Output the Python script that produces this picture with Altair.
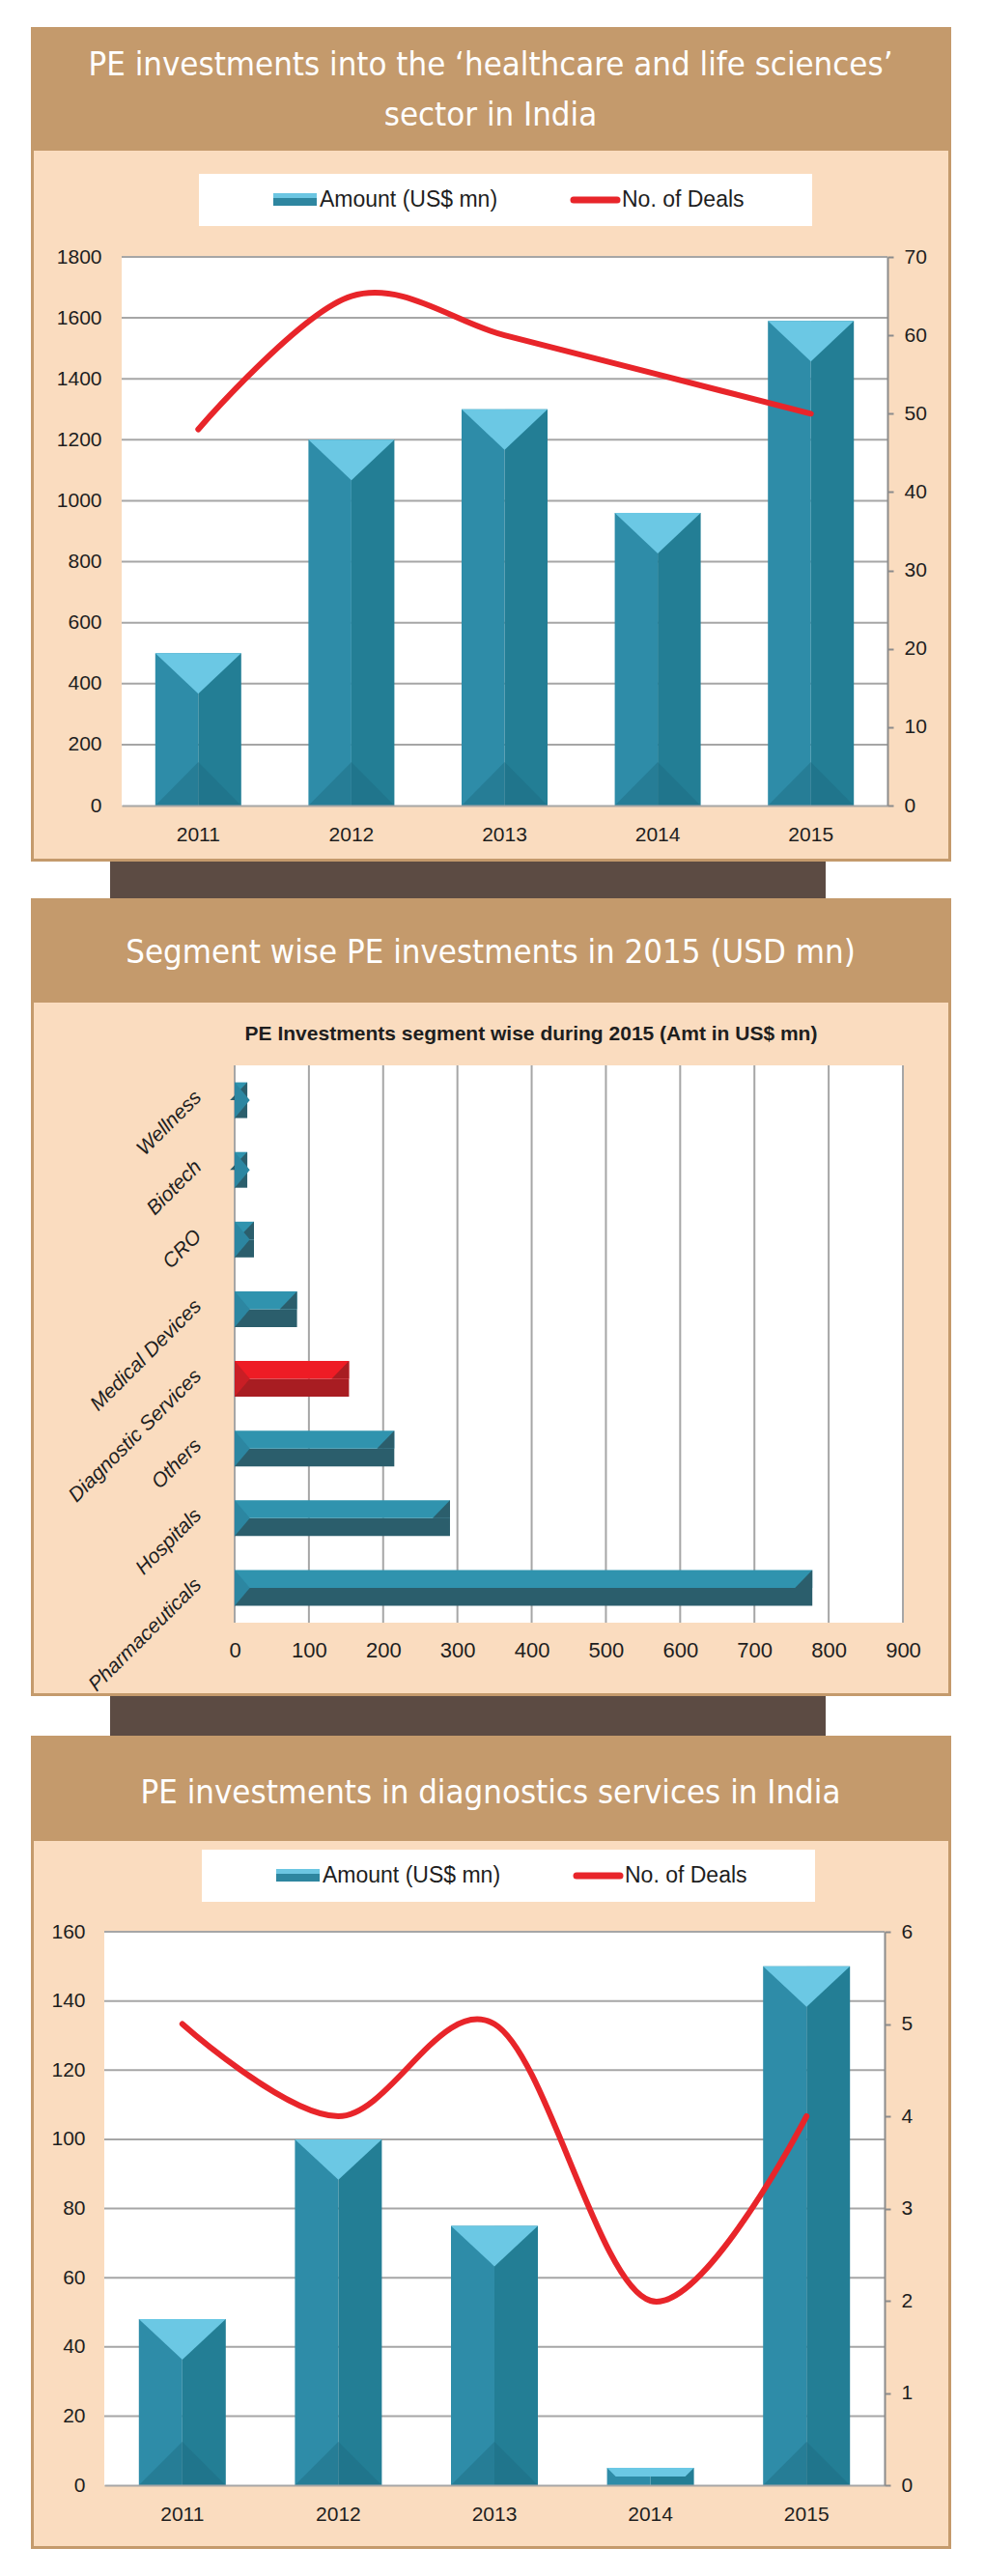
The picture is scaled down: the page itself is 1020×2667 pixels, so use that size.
import altair as alt
import pandas as pd

# ---------------- data ----------------
# PE investments into healthcare & life sciences
years = ["2011", "2012", "2013", "2014", "2015"]
hc_amount = [500, 1200, 1300, 960, 1590]
hc_deals = [48, 65, 60, 55, 50]
hc_amount_ticks = [0, 200, 400, 600, 800, 1000, 1200, 1400, 1600, 1800]
hc_deal_ticks = [0, 10, 20, 30, 40, 50, 60, 70]

# Segment-wise PE investments in 2015
segments = ["Wellness", "Biotech", "CRO", "Medical Devices",
            "Diagnostic Services", "Others", "Hospitals", "Pharmaceuticals"]
segment_amount = [17, 17, 26, 84, 154, 215, 290, 778]
highlight_segment = "Diagnostic Services"
segment_ticks = [0, 100, 200, 300, 400, 500, 600, 700, 800, 900]

# PE investments in diagnostics services
dx_amount = [48, 100, 75, 5, 150]
dx_deals = [5, 4, 5, 2, 4]
dx_amount_ticks = [0, 20, 40, 60, 80, 100, 120, 140, 160]
dx_deal_ticks = [0, 1, 2, 3, 4, 5, 6]

# ---------------- styles ----------------
PAGE_W, PAGE_H = 1020, 2667
TAN = "#C49A6C"
PEACH = "#FADCBF"
BROWN = "#5C4B43"
TEAL_L = "#2E8CA8"
TEAL_R = "#237E95"
CAP = "#6BC8E4"
SHADE = "#1D6A80"
HBAR_TOP = "#3093AE"
HBAR_BOT = "#2B5E6C"
HBAR_NOTCH = "#2C86A1"
RED_TOP = "#EE1C25"
RED_BOT = "#A81D22"
RED_NOTCH = "#C91E25"
LINE_RED = "#E8252A"
GRID = "#A6A6A6"
AXIS_GREY = "#8C8C8C"
INK = "#1E1E1E"
SANS = "Liberation Sans, Arial, sans-serif"
COND = "Liberation Sans Narrow, DejaVu Sans Condensed, Liberation Sans, sans-serif"
TITLE_SIZE = 34.5

ONE = pd.DataFrame({"k": [0]})


# ---------------- page furniture (page pixels) ----------------
def rect(x1, x2, y1, y2, color):
    return alt.Chart(ONE).mark_rect(color=color).encode(
        x=alt.value(x1), x2=alt.value(x2), y=alt.value(y1), y2=alt.value(y2))


def text(s, x, y, size, font=SANS, color=INK, align="center", weight="normal"):
    return alt.Chart(ONE).mark_text(
        text=s, font=font, fontSize=size, color=color, align=align,
        baseline="middle", fontWeight=weight, lineHeight=52,
    ).encode(x=alt.value(x), y=alt.value(y))


def stroke(x1, x2, y, color, width):
    return alt.Chart(ONE).mark_rule(color=color, strokeWidth=width, strokeCap="round").encode(
        x=alt.value(x1), x2=alt.value(x2), y=alt.value(y))


def frame(top, band_bottom, bottom, connector_bottom=None):
    layers = [rect(32, 985, top, bottom, TAN),
              rect(35, 982, band_bottom, bottom - 3, PEACH)]
    if connector_bottom:
        layers.append(rect(114, 855, bottom, connector_bottom, BROWN))
    return layers


def legend(bx, by):
    yc = by + 27
    return [
        rect(bx, bx + 635, by, by + 54, "white"),
        rect(bx + 77, bx + 122, yc - 7, yc + 6, "#2E86A0"),
        rect(bx + 77, bx + 122, yc - 7, yc - 2, "#6CC6E2"),
        text("Amount (US$ mn)", bx + 125, yc, 23, align="left"),
        stroke(bx + 388, bx + 433, yc, LINE_RED, 7),
        text("No. of Deals", bx + 438, yc, 23, align="left"),
    ]


# ---------------- encodings ----------------
def x_years(x0, x1, axis_y, with_axis=True):
    axis = alt.Axis(orient="bottom", offset=axis_y - PAGE_H, labelAngle=0,
                    labelFontSize=21, labelPadding=19, ticks=False, tickSize=0,
                    domain=True, domainColor=GRID, domainWidth=2, grid=False,
                    zindex=1) if with_axis else None
    return alt.X("year:N", sort=None, title=None,
                 scale=alt.Scale(range=[x0, x1], paddingInner=0, paddingOuter=0),
                 axis=axis)


def y_amount(domain, ticks, y0, y1, x0, pad):
    return alt.Y("v:Q", title=None,
                 scale=alt.Scale(domain=domain, nice=False, range=[y0, y1]),
                 axis=alt.Axis(orient="left", offset=-x0, values=ticks, format="d",
                               labelFontSize=21, labelPadding=pad, ticks=False,
                               tickSize=0, domain=False, grid=False, zindex=1))


def y_deals(domain, ticks, y0, y1, x1):
    return alt.Y("deals:Q", title=None,
                 scale=alt.Scale(domain=domain, nice=False, range=[y0, y1]),
                 axis=alt.Axis(orient="right", offset=x1 - PAGE_W, values=ticks,
                               format="d", labelFontSize=21, labelPadding=11,
                               tickSize=6, tickColor=AXIS_GREY, tickWidth=2,
                               domain=True, domainColor=AXIS_GREY, domainWidth=2,
                               grid=False, zindex=1))


def columns(df, x_enc, y_enc, bar_w, small_cut=0):
    """Bevelled columns: two-tone body, light top notch, shaded foot."""
    half = bar_w / 2
    base = alt.Chart(df).encode(x=x_enc, y=y_enc)
    left = base.mark_bar(color=TEAL_L, width=half, xOffset=-half / 2)
    right = base.mark_bar(color=TEAL_R, width=half, xOffset=half / 2)
    cap_path = f"M-1,0L1,0L0,{42 / half:.3f}Z"
    shade_path = f"M-1,0L1,0L0,{-45 / half:.3f}Z"
    tall = base.transform_filter(f"datum.v >= {small_cut}")
    cap = tall.mark_point(shape=cap_path, size=bar_w ** 2, filled=True,
                          color=CAP, opacity=1, strokeWidth=0)
    shade = tall.transform_calculate(v="0").mark_point(
        shape=shade_path, size=bar_w ** 2, filled=True, color=SHADE,
        opacity=0.45, strokeWidth=0)
    layers = [left, right, cap, shade]
    if small_cut > 0:
        layers.append(base.transform_filter(f"datum.v < {small_cut}").mark_point(
            shape="M-1,0L1,0L0.8,0.2L-0.8,0.2Z", size=bar_w ** 2, filled=True,
            color=CAP, opacity=1, strokeWidth=0))
    return layers


def deals_line(df, x_enc, y_enc):
    return alt.Chart(df).mark_line(
        color=LINE_RED, strokeWidth=6, interpolate="cardinal", strokeCap="round"
    ).encode(x=x_enc, y=y_enc)


# ---------------- panel 1: healthcare & life sciences ----------------
P1 = dict(x0=126, x1=919, y0=834, y1=266)
hc = pd.DataFrame({"year": years, "v": hc_amount, "deals": hc_deals})
y1 = y_amount([0, 1800], hc_amount_ticks, P1["y0"], P1["y1"], P1["x0"], 21)
y1r = y_deals([0, 70], hc_deal_ticks, P1["y0"], P1["y1"], P1["x1"])
grid1 = alt.Chart(pd.DataFrame({"v": hc_amount_ticks[1:]})).mark_rule(
    color=GRID, strokeWidth=2).encode(y=y1, x=alt.value(P1["x0"]), x2=alt.value(P1["x1"]))
amount1 = alt.layer(grid1, *columns(hc, x_years(P1["x0"], P1["x1"], P1["y0"]), y1, 89))
line1 = deals_line(hc, x_years(P1["x0"], P1["x1"], P1["y0"], with_axis=False), y1r)

decor1 = frame(28, 156, 892, 930) + [
    text(["PE investments into the \u2018healthcare and life sciences\u2019",
          "sector in India"], 508, 68, TITLE_SIZE, font=COND, color="white"),
] + legend(206, 180) + [rect(P1["x0"], P1["x1"], P1["y1"], P1["y0"], "white")]

# ---------------- panel 2: segment split ----------------
P2 = dict(x0=243, x1=935, y0=1103, y1=1680)
seg = pd.DataFrame({"segment": segments, "v": segment_amount})
x2 = alt.X("v:Q", title=None,
           scale=alt.Scale(domain=[0, 900], nice=False, range=[P2["x0"], P2["x1"]]),
           axis=alt.Axis(orient="bottom", offset=P2["y1"] - PAGE_H, values=segment_ticks,
                         format="d", labelFontSize=22, labelPadding=18, labelFlush=False,
                         ticks=False, tickSize=0, domain=False, grid=False, zindex=1))
y2 = alt.Y("segment:N", sort=segments, title=None,
           scale=alt.Scale(range=[P2["y0"], P2["y1"]], paddingInner=0, paddingOuter=0),
           axis=alt.Axis(orient="left", offset=-P2["x0"], labelAngle=-45,
                         labelAlign="right", labelBaseline="middle", labelLimit=0,
                         labelFontStyle="italic", labelFontSize=21, labelPadding=38,
                         labelOffset=-6, ticks=False, tickSize=0, domain=False,
                         grid=False, zindex=1))
grid2 = alt.Chart(pd.DataFrame({"v": segment_ticks})).mark_rule(
    color=GRID, strokeWidth=2).encode(x=x2, y=alt.value(P2["y0"]), y2=alt.value(P2["y1"]))


def seg_color(hi, lo):
    return alt.when(alt.datum.segment == highlight_segment).then(
        alt.value(hi)).otherwise(alt.value(lo))


hb = alt.Chart(seg).encode(x=x2, y=y2)
hbar_bot = hb.mark_bar(height=18.5, yOffset=9.25).encode(color=seg_color(RED_BOT, HBAR_BOT))
hbar_top = hb.mark_bar(height=18.5, yOffset=-9.25).encode(color=seg_color(RED_TOP, HBAR_TOP))
hbar_bevel = hb.mark_point(shape="M0,-1L0,0L-0.97,0Z", size=37 ** 2, filled=True,
                           opacity=1, strokeWidth=0).encode(color=seg_color(RED_BOT, HBAR_BOT))
hbar_notch = hb.transform_calculate(v="0").mark_point(
    shape="M0,-1L0.85,0L0,1Z", size=37 ** 2, filled=True, opacity=1, strokeWidth=0
).encode(color=seg_color(RED_NOTCH, HBAR_NOTCH))
segments_panel = alt.layer(grid2, hbar_bot, hbar_top, hbar_bevel, hbar_notch)

decor2 = frame(930, 1038, 1756, 1797) + [
    text("Segment wise PE investments in 2015 (USD mn)", 508, 987, TITLE_SIZE,
         font=COND, color="white"),
    text("PE Investments segment wise during 2015 (Amt in US$ mn)", 550, 1071, 21,
         weight="bold"),
    rect(P2["x0"], P2["x1"], P2["y0"], P2["y1"], "white"),
]

# ---------------- panel 3: diagnostics services ----------------
P3 = dict(x0=108, x1=916, y0=2573, y1=2000)
dx = pd.DataFrame({"year": years, "v": dx_amount, "deals": dx_deals})
y3 = y_amount([0, 160], dx_amount_ticks, P3["y0"], P3["y1"], P3["x0"], 20)
y3r = y_deals([0, 6], dx_deal_ticks, P3["y0"], P3["y1"], P3["x1"])
grid3 = alt.Chart(pd.DataFrame({"v": dx_amount_ticks[1:]})).mark_rule(
    color=GRID, strokeWidth=2).encode(y=y3, x=alt.value(P3["x0"]), x2=alt.value(P3["x1"]))
amount3 = alt.layer(grid3, *columns(dx, x_years(P3["x0"], P3["x1"], P3["y0"]), y3, 90,
                                    small_cut=20))
line3 = deals_line(dx, x_years(P3["x0"], P3["x1"], P3["y0"], with_axis=False), y3r)

decor3 = frame(1797, 1906, 2639) + [
    text("PE investments in diagnostics services in India", 508, 1857, TITLE_SIZE,
         font=COND, color="white"),
] + legend(209, 1915) + [rect(P3["x0"], P3["x1"], P3["y1"], P3["y0"], "white")]

chart = alt.layer(
    *decor1, *decor2, *decor3,
    amount1, line1, segments_panel, amount3, line3,
).resolve_scale(x="independent", y="independent").properties(
    width=PAGE_W, height=PAGE_H, padding=0, autosize="none", background="white"
).configure_view(strokeWidth=0).configure_axis(labelFont=SANS, labelColor=INK)

chart.save("out.html", embed_options={"renderer": "svg", "actions": False})
